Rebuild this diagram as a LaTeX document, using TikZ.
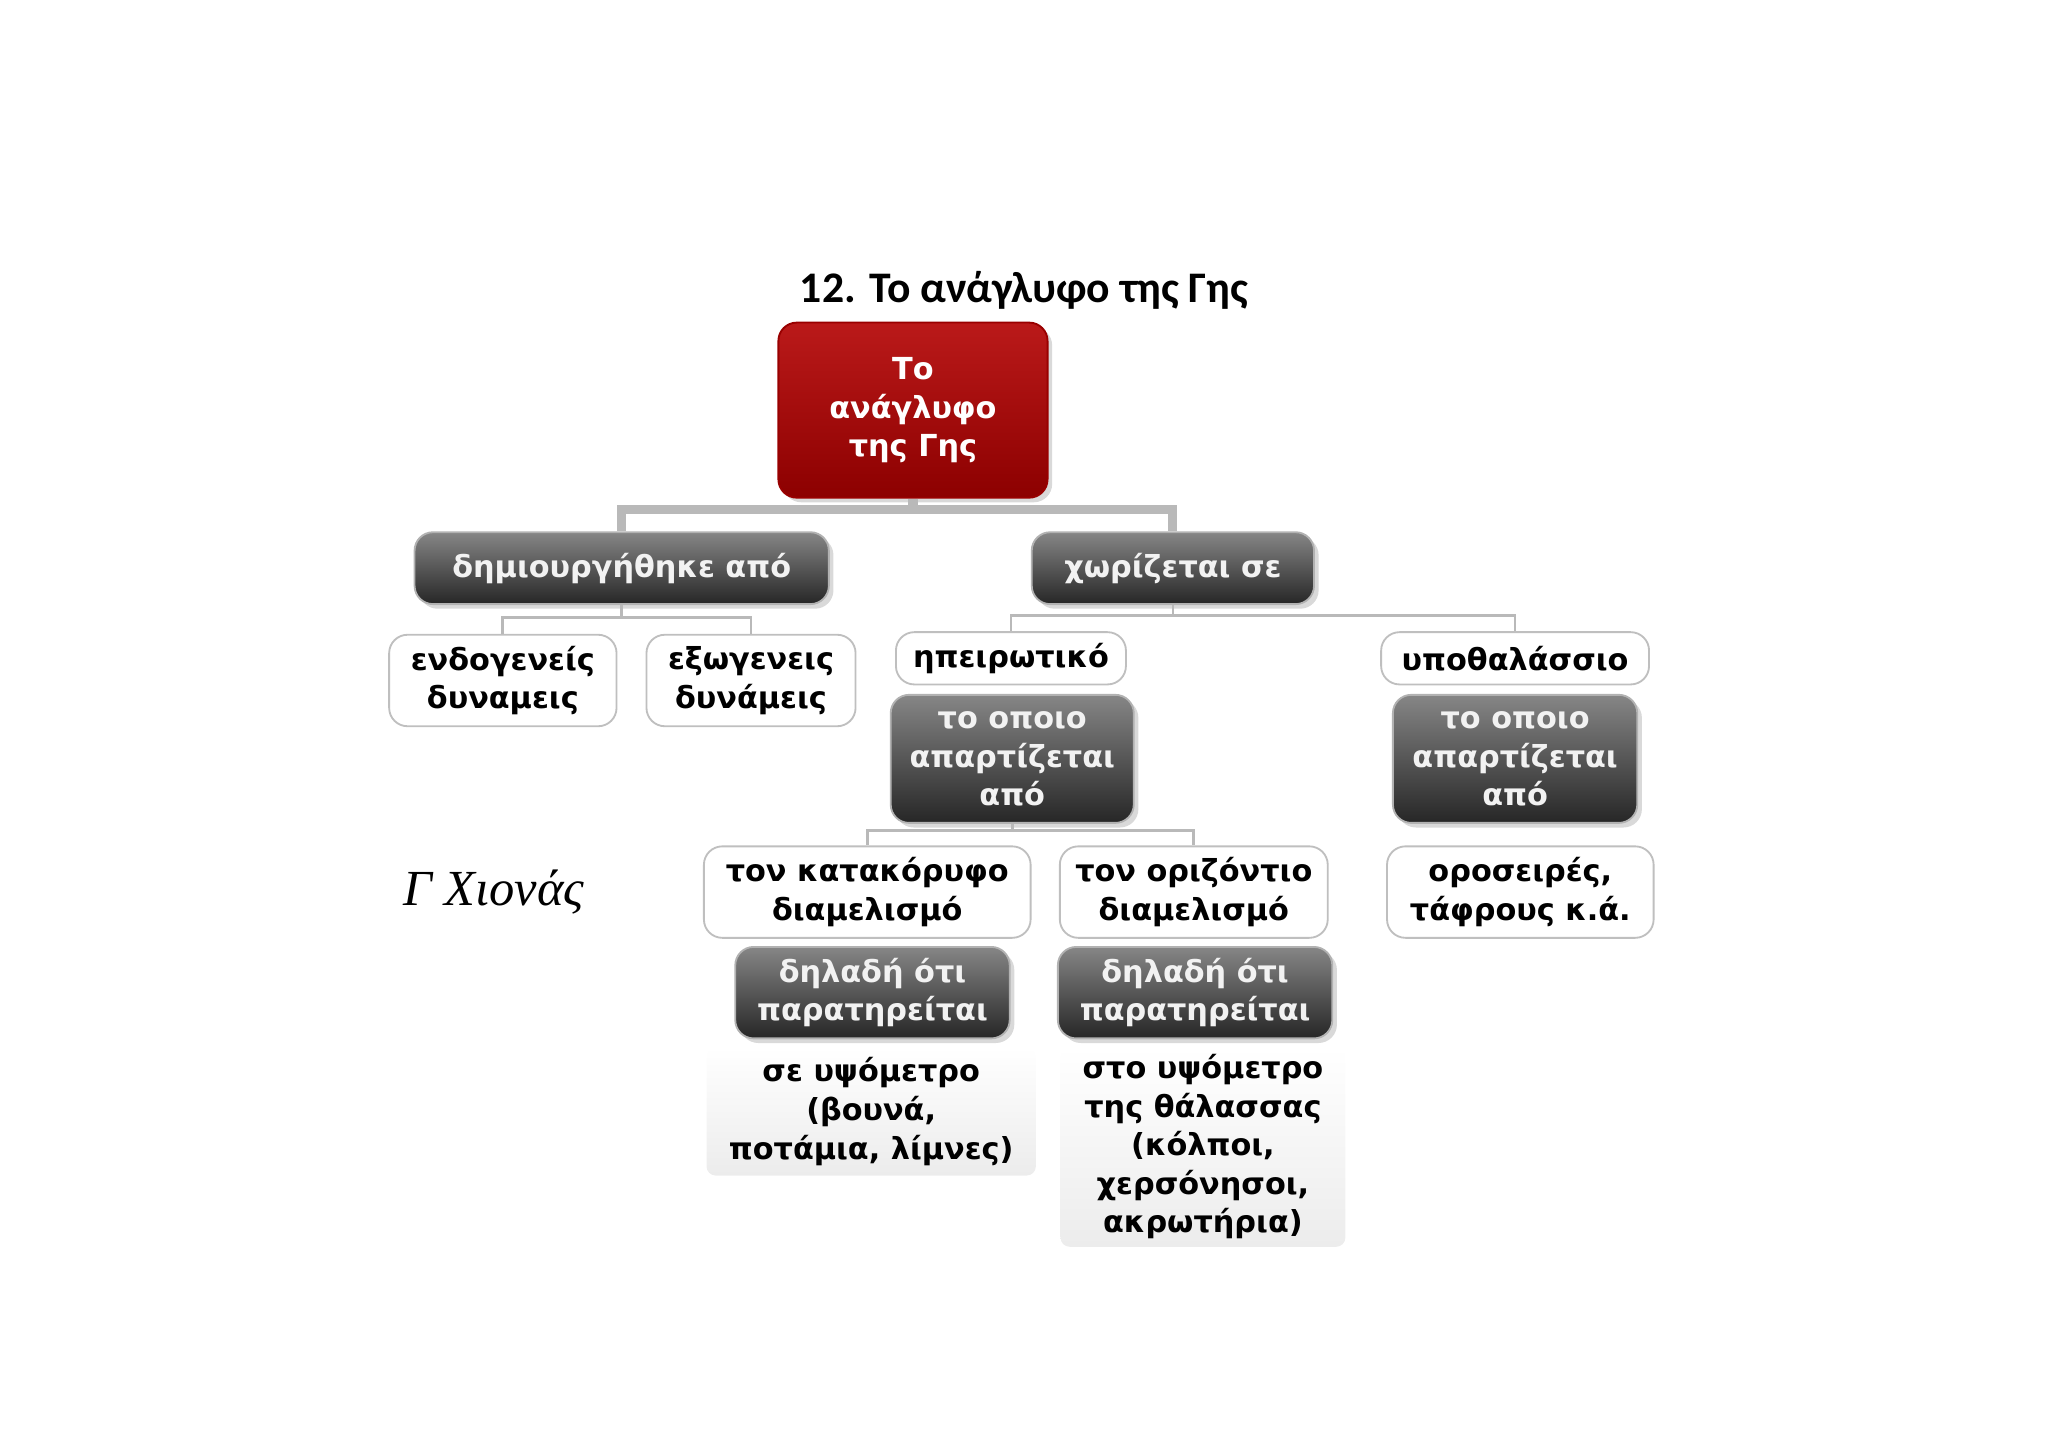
\documentclass[tikz,border=0pt]{standalone}
\usepackage{fontspec}
\setmainfont{DejaVu Sans}
\newfontfamily\titlefont{Carlito}
\newfontfamily\sigfont{Liberation Serif}
\usetikzlibrary{shadows}
\begin{document}
\begin{tikzpicture}[x=0.01cm,y=-0.01cm,
 base/.style={rounded corners=4pt,align=center,font=\bfseries\fontsize{6.6pt}{8.4pt}\selectfont,inner sep=0pt},
 darkbox/.style={base,text=white!90!gray,top color=gray!95!white,bottom color=black!85,draw=gray!60,drop shadow={opacity=0.3,shadow xshift=1pt,shadow yshift=-1pt}},
 redbox/.style={base,text=white,top color=red!70!black!90!white,bottom color=red!55!black,draw=red!60!black,drop shadow={opacity=0.3,shadow xshift=1pt,shadow yshift=-1pt}},
 wbox/.style={base,draw=gray!50,fill=white,text=black},
 gbox/.style={base,top color=white,bottom color=gray!15,text=black,rounded corners=2pt},
 thick line/.style={draw=gray!55,line width=2pt},
 thin line/.style={draw=gray!55,line width=0.6pt}]
\useasboundingbox (0,0) rectangle (1568,1108);
\node[font=\titlefont\bfseries\fontsize{9.5pt}{11pt}\selectfont] (title) at (784,222) {12. Το ανάγλυφο της Γης};
\node[redbox,minimum width=2.06cm,minimum height=1.34cm] (root) at (699,314) {Το\\ανάγλυφο\\της Γης};
\node[darkbox,minimum width=3.17cm,minimum height=0.55cm] (dim) at (476,435) {δημιουργήθηκε από};
\node[darkbox,minimum width=2.16cm,minimum height=0.55cm] (xor) at (898,435) {χωρίζεται σε};
\node[wbox,minimum width=1.74cm,minimum height=0.70cm] (endo) at (385,521) {ενδογενείς\\δυναμεις};
\node[wbox,minimum width=1.60cm,minimum height=0.70cm] (exo) at (575,521) {εξωγενεις\\δυνάμεις};
\node[wbox,minimum width=1.76cm,minimum height=0.40cm] (ipe) at (774,504) {ηπειρωτικό};
\node[wbox,minimum width=2.05cm,minimum height=0.40cm] (ypo) at (1160,504) {υποθαλάσσιο};
\node[darkbox,minimum width=1.86cm,minimum height=0.98cm] (ap1) at (775,581) {το οποιο\\απαρτίζεται\\από};
\node[darkbox,minimum width=1.87cm,minimum height=0.98cm] (ap2) at (1160,581) {το οποιο\\απαρτίζεται\\από};
\node[wbox,minimum width=2.50cm,minimum height=0.70cm] (kat) at (664,683) {τον κατακόρυφο\\διαμελισμό};
\node[wbox,minimum width=2.05cm,minimum height=0.70cm] (ori) at (914,683) {τον οριζόντιο\\διαμελισμό};
\node[wbox,minimum width=2.04cm,minimum height=0.70cm] (oro) at (1164,683) {οροσειρές,\\τάφρους κ.ά.};
\node[darkbox,minimum width=2.10cm,minimum height=0.70cm] (dil1) at (668,760) {δηλαδή ότι\\παρατηρείται};
\node[darkbox,minimum width=2.10cm,minimum height=0.70cm] (dil2) at (915,760) {δηλαδή ότι\\παρατηρείται};
\node[gbox,minimum width=2.52cm,minimum height=0.98cm] (ys1) at (667,851) {σε υψόμετρο\\(βουνά,\\ποτάμια, λίμνες)};
\node[gbox,minimum width=2.18cm,minimum height=1.53cm] (ys2) at (921,878) {στο υψόμετρο\\της θάλασσας\\(κόλποι,\\χερσόνησοι,\\ακρωτήρια)};
\node[font=\sigfont\itshape\fontsize{11pt}{11pt}\selectfont] (sig) at (378,683) {Γ Χιονάς};
% connectors
\draw[thick line] (root.south) -- (699,390) -| (dim.north);
\draw[thick line] (699,390) -| (xor.north);
\draw[thin line] (dim.south) -- (476,473) coordinate (c1);
\draw[thin line] (c1) -| (endo.north);
\draw[thin line] (c1) -| (exo.north);
\draw[thin line] (xor.south) -- (898,471) coordinate (c2);
\draw[thin line] (c2) -| (ipe.north);
\draw[thin line] (c2) -| (ypo.north);
\draw[thin line] (ap1.south) -- (775,636) coordinate (c3);
\draw[thin line] (c3) -| (kat.north);
\draw[thin line] (c3) -| (ori.north);
\end{tikzpicture}
\end{document}
